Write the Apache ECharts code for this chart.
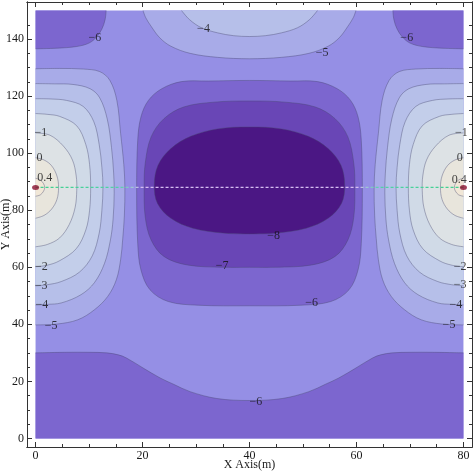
<!DOCTYPE html>
<html>
<head>
<meta charset="utf-8">
<script src="https://cdn.jsdelivr.net/npm/echarts@6/dist/echarts.min.js"></script>
<style>
  html, body { margin: 0; padding: 0; background: #fff; }
  #chart { width: 474px; height: 474px; }
</style>
</head>
<body>
<div id="chart"></div>
<script>
// plot domain and ticks
const xRange = [0, 80];
const yRange = [0, 150];
const xMajor = [0, 20, 40, 60, 80];
const xMinor = [5, 10, 15, 25, 30, 35, 45, 50, 55, 65, 70, 75];
const yMajor = [0, 20, 40, 60, 80, 100, 120, 140];
const yMinor = [5, 10, 15, 25, 30, 35, 45, 50, 55, 65, 70, 75, 85, 90, 95, 105, 110, 115, 125, 130, 135, 145];

// contour levels and the fill of the band just below each one (first = above 0.4)
const levels = [0.4, 0, -1, -2, -3, -4, -5, -6, -7, -8];
const bandColors = ['#f1e7d7', '#e8e5dc', '#dde2e5', '#d0dae7', '#c3ceea', '#b6bfe9', '#a8abe8',
                    '#958fe5', '#7c66cf', '#6946b6', '#4b1784'];

// contour paths, [x, y] in metres
const bottomM6 = [[0,30],[5.8,30.2],[10,30.2],[13.3,30],[15.5,29.3],[17,28.2],[20.1,24.7],[23.3,21.2],[25.8,19],[28.9,16.4],[33.9,14],[40,13.3],
  [46.1,14],[51.1,16.4],[54.2,19],[56.7,21.2],[59.9,24.7],[63,28.2],[64.5,29.3],[66.7,30],[70,30.2],[74.2,30.2],[80,30]];
const topLeftM6 = [[0,136.6],[4,136.8],[7.7,137.4],[10,138.6],[11.4,140.7],[12.4,143.5],[13,146.8],[13.2,150]];
const topRightM6 = [[66.8,150],[67,146.8],[67.6,143.5],[68.6,140.7],[70,138.6],[72.3,137.4],[76,136.8],[80,136.6]];
const topMidM5 = [[20.1,150],[20.6,147.5],[21.6,144.5],[23.2,140.5],[25.3,137.5],[28.9,135],[34,133.6],[40,133.1],
  [46,133.6],[51.1,135],[54.7,137.5],[56.8,140.5],[58.4,144.5],[59.4,147.5],[59.9,150]];
const topMidM4 = [[27.3,150],[28.8,146.8],[31,144],[34,142.2],[37,141.2],[40,140.9],[43,141.2],[46,142.2],[49,144],[51.2,146.8],[52.7,150]];

const leftM5 = [[0,129.6],[4.5,129.7],[8.9,129.5],[12,128.6],[13.9,125.5],[15.2,118.5],[15.9,107],[16.5,96],[16.7,88],[16.6,78],[16.3,70],
  [15.9,62.6],[15.1,55.6],[13.5,49.8],[11,45.1],[7.9,41.6],[4,40.1],[0,39.8]];
const leftM4 = [[0,124.4],[3.5,124.3],[7,124.1],[10.2,122.6],[12,119.4],[13.4,112],[14.2,102],[14.6,93],[14.7,86],[14.5,77],[14,69.6],
  [12.9,61.4],[11,54.6],[8.5,50.4],[4.8,47.5],[2.2,47],[0,46.8]];
const leftM3 = [[0,119.1],[2.9,119],[5.8,118.5],[8.9,116.4],[10.9,111],[11.9,103],[12.4,95],[12.6,88],[12.4,80],[11.9,72],[10.6,64],
  [8.2,58.3],[4.8,55],[2.2,53.9],[0,53.5]];
const leftM2 = [[0,113.9],[2.3,113.6],[4.5,112.9],[7.7,109.6],[9.4,103],[10.1,96],[10.3,88],[10.1,80],[9.4,73.1],[7.6,66.5],[4.4,62.2],[2.1,60.7],[0,60.2]];
const leftM1 = [[0,107.1],[2.7,106.3],[5.2,102.5],[6.9,97.6],[7.6,92],[7.7,87],[7.4,81],[6.3,75],[4.5,70.3],[2.2,68],[0,67.2]];
const left0 = [[0,98.4],[1.6,97.6],[3,95.6],[4,92],[4.3,88],[4,83.8],[3,80.4],[1.6,78.2],[0,77.2]];
const left04 = [[0,91.2],[0.9,90.6],[1.5,89.3],[1.7,88],[1.5,86.7],[0.9,85.4],[0,84.9]];

const rightM5 = [[80,129.6],[75.5,129.7],[71.1,129.5],[68,128.6],[66.1,125.5],[64.8,118.5],[64.1,107],[63.5,96],[63.3,88],[63.4,78],[63.7,70],
  [64.1,62.6],[64.9,55.6],[66.5,49.8],[69,45.1],[72.1,41.6],[76,40.1],[80,39.8]];
const rightM4 = [[80,124.4],[76.5,124.3],[73,124.1],[69.8,122.6],[68,119.4],[66.6,112],[65.8,102],[65.4,93],[65.3,86],[65.5,77],[66,69.6],
  [67.1,61.4],[69,54.6],[71.5,50.4],[75.2,47.5],[77.8,47],[80,46.8]];
const rightM3 = [[80,119.1],[77.1,119],[74.2,118.5],[71.1,116.4],[69.1,111],[68.1,103],[67.6,95],[67.4,88],[67.6,80],[68.1,72],[69.4,64],
  [71.8,58.3],[75.2,55],[77.8,53.9],[80,53.5]];
const rightM2 = [[80,113.9],[77.7,113.6],[75.5,112.9],[72.3,109.6],[70.6,103],[69.9,96],[69.7,88],[69.9,80],[70.6,73.1],[72.4,66.5],[75.6,62.2],[77.9,60.7],[80,60.2]];
const rightM1 = [[80,107.1],[77.3,106.3],[74.8,102.5],[73.1,97.6],[72.4,92],[72.3,87],[72.6,81],[73.7,75],[75.5,70.3],[77.8,68],[80,67.2]];
const right0 = [[80,98.4],[78.4,97.6],[77,95.6],[76,92],[75.7,88],[76,83.8],[77,80.4],[78.4,78.2],[80,77.2]];
const right04 = [[80,91.2],[79.1,90.6],[78.5,89.3],[78.3,88],[78.5,86.7],[79.1,85.4],[80,84.9]];

const centerM6 = [[40,125.5],[47.7,125.3],[52.7,125.1],[56.4,122.6],[58.9,118.5],[60.3,112.7],[60.9,104.5],[61.1,87.1],[60.9,68.4],[60.3,59.1],
  [58.6,52.1],[55.2,48],[49.6,46.7],[40,46.5],[30.4,46.7],[24.8,48],[21.4,52.1],[19.7,59.1],[19.1,68.4],[18.9,87.1],[19.1,104.5],[19.7,112.7],
  [21.1,118.5],[23.6,122.6],[27.3,125.1],[32.3,125.3]];
const centerM7 = [[40,118.3],[46.6,117.9],[52.3,116.2],[56,112.1],[58.4,105.7],[59.5,96.4],[59.7,88.2],[59.5,77.7],[58.4,69.6],[56,63.8],
  [51.6,60.8],[44.8,60],[40,60],[35.2,60],[28.4,60.8],[24,63.8],[21.6,69.6],[20.5,77.7],[20.3,88.2],[20.5,96.4],[21.6,105.7],[24,112.1],
  [27.7,116.2],[33.4,117.9]];
const centerM8 = [[40,109.2],[46,108.5],[51,105.9],[54.7,101.6],[57.1,95.8],[57.8,88.8],[57.2,82.4],[54.7,77.2],[50.6,73.7],[45,72],
  [40,71.7],[35,72],[29.4,73.7],[25.3,77.2],[22.8,82.4],[22.2,88.8],[22.9,95.8],[25.3,101.6],[29,105.9],[34,108.5]];

// contour labels [x, y, text]
const contourLabels = [
  [11.1,140.6,'−6'], [69.4,140.4,'−6'], [31.4,143.6,'−4'], [53.6,135.3,'−5'],
  [1.0,107.1,'−1'], [79.6,107.1,'−1'], [0.75,98.2,'0'], [79.3,98.2,'0'], [1.7,91.2,'0.4'], [79.2,90.7,'0.4'],
  [1.1,60.2,'−2'], [79.4,60.2,'−2'], [1.05,53.5,'−3'], [79.4,53.7,'−3'], [1.2,46.7,'−4'], [78.6,46.9,'−4'],
  [2.9,39.6,'−5'], [77.3,39.9,'−5'],
  [44.5,71,'−8'], [34.9,60.5,'−7'], [51.6,47.7,'−6'], [41.2,13,'−6']
];

// sources and the line between them
const sourceX = [0, 80];
const sourceY = [88, 88];

const plotBox = [[xRange[0], yRange[0]], [xRange[1], yRange[0]], [xRange[1], yRange[1]], [xRange[0], yRange[1]]];
const band = (lvl, low) => bandColors[levels.indexOf(lvl) + (low ? 1 : 0)];

// regions painted back to front; corners close a path along the plot border, no corners = closed loop
const regions = [
  { pts: bottomM6, lvl: -6, low: true, corners: [[80, 0], [0, 0]] },
  { pts: topLeftM6, lvl: -6, low: true, corners: [[0, 150]] },
  { pts: topRightM6, lvl: -6, low: true, corners: [[80, 150]] },
  { pts: topMidM5, lvl: -5, corners: [] },
  { pts: topMidM4, lvl: -4, corners: [] },
  { pts: leftM5, lvl: -5, corners: [] }, { pts: leftM4, lvl: -4, corners: [] }, { pts: leftM3, lvl: -3, corners: [] },
  { pts: leftM2, lvl: -2, corners: [] }, { pts: leftM1, lvl: -1, corners: [] }, { pts: left0, lvl: 0, corners: [] },
  { pts: left04, lvl: 0.4, corners: [] },
  { pts: rightM5, lvl: -5, corners: [] }, { pts: rightM4, lvl: -4, corners: [] }, { pts: rightM3, lvl: -3, corners: [] },
  { pts: rightM2, lvl: -2, corners: [] }, { pts: rightM1, lvl: -1, corners: [] }, { pts: right0, lvl: 0, corners: [] },
  { pts: right04, lvl: 0.4, corners: [] },
  { pts: centerM6, lvl: -6, low: true },
  { pts: centerM7, lvl: -7, low: true },
  { pts: centerM8, lvl: -8, low: true }
];

const SMOOTH = 0.35;
const LINE = 'rgba(70,70,110,0.5)';
const FONT = 'Liberation Serif';

function fillItem(params, api) {
  if (params.dataIndex === 0) {
    return { type: 'polygon', shape: { points: plotBox.map(p => api.coord(p)) }, style: { fill: bandColors[7] } };
  }
  const r = regions[params.dataIndex - 1];
  let pts = r.pts;
  if (r.corners) {
    // doubled points keep the border edges straight
    pts = [pts[0], ...pts, pts[pts.length - 1], ...r.corners.flatMap(c => [c, c])];
  }
  return {
    type: 'polygon',
    shape: { points: pts.map(p => api.coord(p)), smooth: SMOOTH },
    style: { fill: band(r.lvl, r.low) }
  };
}

function lineItem(params, api) {
  const r = regions[params.dataIndex];
  return {
    type: r.corners ? 'polyline' : 'polygon',
    shape: { points: r.pts.map(p => api.coord(p)), smooth: SMOOTH },
    style: { fill: 'none', stroke: LINE, lineWidth: 0.8 }
  };
}

const pad = (r) => [r[0] - (r[1] - r[0]) * 0.02, r[1] + (r[1] - r[0]) * 0.02];
const xExt = pad(xRange);
const yExt = pad(yRange);

const tickAxis = (pos, ext, values, len, extra) => Object.assign({
  type: 'value', position: pos, min: ext[0], max: ext[1],
  splitLine: { show: false },
  axisLine: { show: true, onZero: false, lineStyle: { color: '#333', width: 1 } },
  axisTick: { show: true, inside: true, length: len, customValues: values, lineStyle: { color: '#333', width: 1 } },
  axisLabel: { show: false }
}, extra || {});

const labelStyle = { show: true, fontFamily: FONT, fontSize: 12, color: '#1a1a1a', margin: 3 };
const nameStyle = { fontFamily: FONT, fontSize: 12, color: '#1a1a1a' };

const chart = echarts.init(document.getElementById('chart'));
chart.setOption({
  animation: false,
  backgroundColor: '#fff',
  grid: { left: 27, right: 2, top: 2, bottom: 27, outerBoundsMode: 'none', containLabel: false },
  xAxis: [
    tickAxis('bottom', xExt, xMajor, 5, {
      axisLabel: Object.assign({ customValues: xMajor }, labelStyle),
      name: 'X Axis(m)', nameLocation: 'middle', nameGap: 12, nameMoveOverlap: false,
      nameTextStyle: nameStyle
    }),
    tickAxis('bottom', xExt, xMinor, 3),
    tickAxis('top', xExt, xMajor, 5),
    tickAxis('top', xExt, xMinor, 3)
  ],
  yAxis: [
    tickAxis('left', yExt, yMajor, 5, {
      axisLabel: Object.assign({ customValues: yMajor }, labelStyle),
      name: 'Y Axis(m)', nameLocation: 'middle', nameGap: 15, nameMoveOverlap: false,
      nameTextStyle: nameStyle
    }),
    tickAxis('left', yExt, yMinor, 3),
    tickAxis('right', yExt, yMajor, 5),
    tickAxis('right', yExt, yMinor, 3)
  ],
  series: [
    {
      type: 'custom', silent: true, z: 1,
      renderItem: fillItem,
      data: [[0]].concat(regions.map((r, i) => [i + 1]))
    },
    {
      type: 'custom', silent: true, z: 2,
      renderItem: lineItem,
      data: regions.map((r, i) => [i])
    },
    {
      type: 'line', silent: true, z: 3, symbol: 'none',
      data: sourceX.map((x, i) => [x, sourceY[i]]),
      lineStyle: {
        width: 1.4, type: [3, 2],
        color: {
          type: 'linear', x: 0, y: 0, x2: 1, y2: 0,
          colorStops: [
            { offset: 0, color: '#3fcf8c' }, { offset: 0.2, color: '#4fd3a4' },
            { offset: 0.25, color: '#d6bdf2' }, { offset: 0.75, color: '#d6bdf2' },
            { offset: 0.8, color: '#4fd3a4' }, { offset: 1, color: '#3fcf8c' }
          ]
        }
      }
    },
    {
      type: 'scatter', silent: true, z: 4, symbol: 'circle', symbolSize: [7, 5],
      itemStyle: { color: '#8a0f2e' },
      data: sourceX.map((x, i) => [x, sourceY[i]])
    },
    {
      type: 'scatter', silent: true, z: 5, symbolSize: 0,
      data: contourLabels.map(l => ({ value: [l[0], l[1]], name: l[2] })),
      label: { show: true, position: 'inside', formatter: '{b}', fontFamily: FONT, fontSize: 12, color: '#111' }
    }
  ]
});
</script>
</body>
</html>
